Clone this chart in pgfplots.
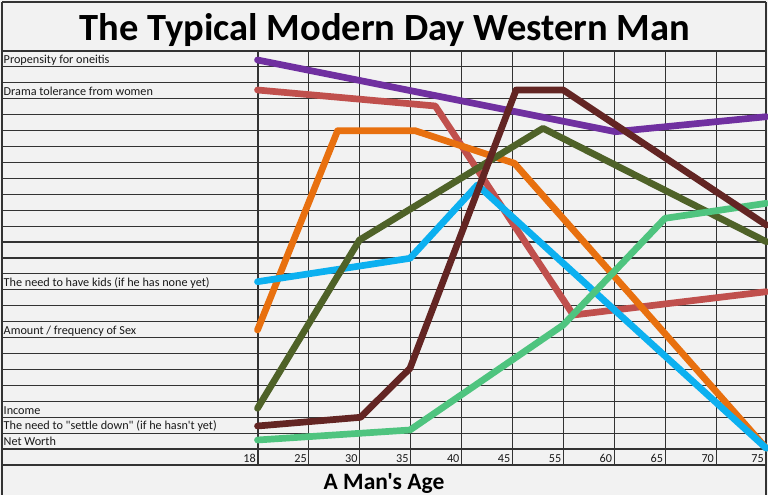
\documentclass[border=0pt]{standalone}
\usepackage{pgfplots}
\pgfplotsset{compat=1.18}
\usepackage{fontspec}
\setmainfont{Carlito}[Ligatures=TeXOff]
\definecolor{bg}{HTML}{F2F2F2}
\definecolor{gridc}{HTML}{333333}
\definecolor{cpurple}{HTML}{7030A0}
\definecolor{cred}{HTML}{C0504D}
\definecolor{corange}{HTML}{E8700F}
\definecolor{cblue}{HTML}{0CB0F0}
\definecolor{cdkgreen}{HTML}{4F6228}
\definecolor{cbrown}{HTML}{632523}
\definecolor{cltgreen}{HTML}{4FC47F}
\begin{document}
\begin{tikzpicture}
\begin{axis}[
  width=768pt, height=495pt, scale only axis,
  xmin=0, xmax=768, ymin=0, ymax=495, y dir=reverse,
  axis lines=none, ticks=none,
  clip=true,
  every axis plot/.append style={line width=6.7pt, line cap=round, line join=round},
]
\fill[bg] (rel axis cs:0,0) rectangle (rel axis cs:1,1);
% horizontal grid lines
\pgfplotsinvokeforeach{2,51,66.92,82.84,98.76,114.68,130.6,146.52,162.44,178.36,194.28,210.2,226.12,242.04,257.96,273.88,289.8,305.72,321.64,337.56,353.48,369.4,385.32,401.24,417.16,433.08,449,465}{
  \draw[gridc, line width=1.1pt] (axis cs:2,#1) -- (axis cs:766,#1);
}
% vertical grid lines
\pgfplotsinvokeforeach{258,308.9,359.8,410.7,461.6,512.5,563.4,614.3,665.2,716.1}{
  \draw[gridc, line width=1.1pt] (axis cs:#1,51) -- (axis cs:#1,465);
}
\draw[gridc, line width=1.1pt] (axis cs:766,2) -- (axis cs:766,495);
\draw[gridc, line width=1.1pt] (axis cs:2,2) -- (axis cs:2,495);

% series
\addplot[cred] coordinates {(257.5,90) (435.3,106) (573.3,315) (766.3,291.7)};
\addplot[cpurple] coordinates {(257.5,60) (615.4,131.7) (766.3,116.7)};
\addplot[corange] coordinates {(257.5,330) (337.6,130.7) (415.1,130.7) (514.4,163.3) (766.3,448.3)};
\addplot[cblue] coordinates {(257.5,281.7) (410,258.3) (477.4,185) (766.3,448.3)};
\addplot[cdkgreen] coordinates {(257.5,408.3) (359.5,240) (543,128.3) (766.3,241.7)};
\addplot[cltgreen] coordinates {(257.5,440) (410,430) (563.2,325) (665,218.3) (766.3,203.3)};
\addplot[cbrown] coordinates {(257.5,426) (360.5,417.3) (410,368.3) (516.1,90) (563.2,90) (766.3,225)};

% title
\node[anchor=base, inner sep=0pt, font=\fontsize{38.5}{40}\selectfont\bfseries, text=black] at (axis cs:385,40.5) {The Typical Modern Day Western Man};
% row labels
\begin{scope}[every node/.style={anchor=base west, font=\fontsize{12.2}{14}\selectfont, text=black!90, inner sep=0pt}]
\node at (axis cs:3.5,63.7) {Propensity for oneitis};
\node at (axis cs:3.5,95.6) {Drama tolerance from women};
\node at (axis cs:3.5,286.6) {The need to have kids (if he has none yet)};
\node at (axis cs:3.5,334.4) {Amount / frequency of Sex};
\node at (axis cs:3.5,414) {Income};
\node at (axis cs:3.5,429.9) {The need to "settle down" (if he hasn't yet)};
\node at (axis cs:3.5,445.8) {Net Worth};
\end{scope}
% tick labels
\begin{scope}[every node/.style={anchor=base east, font=\fontsize{12.2}{14}\selectfont, text=black!90, inner sep=0pt}]
\node at (axis cs:256,462) {18};
\node at (axis cs:306.9,462) {25};
\node at (axis cs:357.8,462) {30};
\node at (axis cs:408.7,462) {35};
\node at (axis cs:459.6,462) {40};
\node at (axis cs:510.5,462) {45};
\node at (axis cs:561.4,462) {55};
\node at (axis cs:612.3,462) {60};
\node at (axis cs:663.2,462) {65};
\node at (axis cs:714.1,462) {70};
\node at (axis cs:764,462) {75};
\end{scope}
\node[anchor=base, inner sep=0pt, font=\fontsize{23.5}{25}\selectfont\bfseries, text=black] at (axis cs:384,489) {A Man's Age};
\end{axis}
\end{tikzpicture}
\end{document}
